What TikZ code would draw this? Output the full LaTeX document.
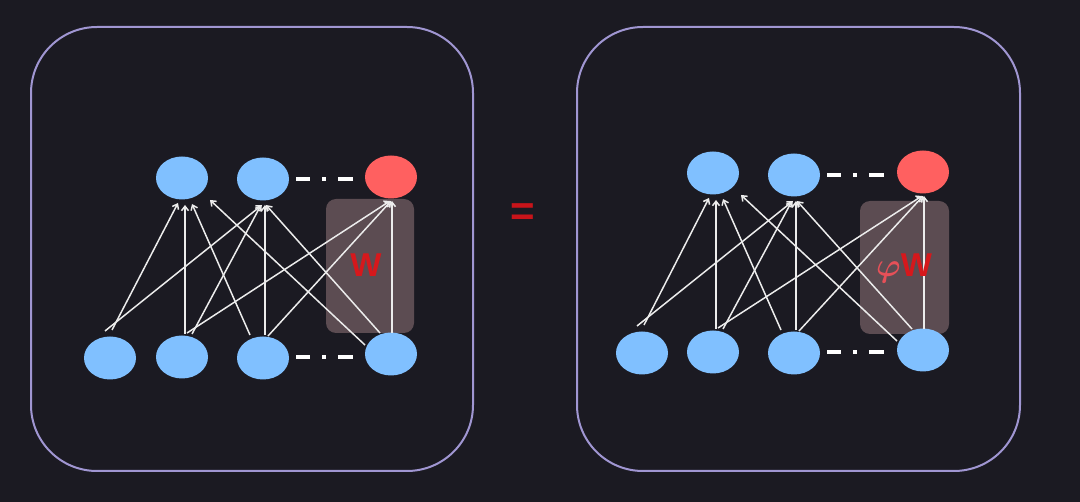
\documentclass[tikz,border=0pt]{standalone}
\usepackage{fix-cm}
\usepackage{fontspec}
\setmainfont{Liberation Sans}
\usetikzlibrary{arrows.meta,shapes.geometric,calc}
\definecolor{bg}{RGB}{27,26,34}
\definecolor{frame}{RGB}{160,150,210}
\definecolor{nblue}{RGB}{128,192,255}
\definecolor{nred}{RGB}{255,96,96}
\definecolor{wbox}{RGB}{92,76,82}
\definecolor{wred}{RGB}{214,24,28}
\definecolor{phired}{RGB}{230,80,88}
\definecolor{eqred}{RGB}{200,20,26}
\definecolor{edgec}{RGB}{236,236,236}
\begin{document}
\begin{tikzpicture}[x=1pt,y=-1pt,
  neuron/.style={ellipse,minimum width=52pt,minimum height=43pt,inner sep=0pt,fill=nblue},
  outn/.style={neuron,fill=nred},
  panel/.style={draw=frame,line width=2pt,rounded corners=66pt},
  wrect/.style={fill=wbox,rounded corners=10pt},
  arr/.style={draw=edgec,line width=1.5pt,-{Straight Barb[length=4.5pt,width=7pt]}},
  dotline/.style={draw=white,line width=4pt,dash pattern=on 14pt off 12pt on 4pt off 12pt on 15pt},
  wlabel/.style={font=\bfseries\fontsize{33}{33}\selectfont,text=wred,inner sep=0pt,anchor=base},
  eqlabel/.style={font=\bfseries\fontsize{42}{42}\selectfont,text=eqred,inner sep=0pt,anchor=base}
]
\fill[bg] (0,0) rectangle (1080,502);
\useasboundingbox (0,0) rectangle (1080,502);
% panels
\draw[panel] (31,27) rectangle (473,471);
\draw[panel] (577,27) rectangle (1020,471);
% weight boxes
\fill[wrect] (326,199) rectangle (414,333);
\fill[wrect] (860,201) rectangle (949,334);
% left network
\node[neuron] (Lt1) at (182,178) {};
\node[neuron] (Lt2) at (263,179) {};
\node[outn]   (Lr)  at (391,177) {};
\node[neuron] (Lb1) at (110,358) {};
\node[neuron] (Lb2) at (182,357) {};
\node[neuron] (Lb3) at (263,358) {};
\node[neuron] (Lb4) at (391,354) {};
% right network
\node[neuron] (Rt1) at (713,173) {};
\node[neuron] (Rt2) at (794,175) {};
\node[outn]   (Rr)  at (923,172) {};
\node[neuron] (Rb1) at (642,353) {};
\node[neuron] (Rb2) at (713,352) {};
\node[neuron] (Rb3) at (794,353) {};
\node[neuron] (Rb4) at (923,350) {};
% connectors
\foreach \p in {L,R}{
  \draw[arr] ([shift={(2,-28)}]\p b1.center) -- ([shift={(-4,25)}]\p t1.center);
  \draw[arr] ([shift={(-5,-27)}]\p b1.center) -- ([shift={(-1,26)}]\p t2.center);
  \draw[arr] ([shift={(3,-23)}]\p b2.center) -- ([shift={(3,27)}]\p t1.center);
  \draw[arr] ([shift={(10,-23)}]\p b2.center) -- ([shift={(-2,26)}]\p t2.center);
  \draw[arr] ([shift={(5,-24)}]\p b2.center) -- ([shift={(-1,24)}]\p r.center);
  \draw[arr] ([shift={(-13,-23)}]\p b3.center) -- ([shift={(10,26)}]\p t1.center);
  \draw[arr] ([shift={(2,-23)}]\p b3.center) -- ([shift={(2,26)}]\p t2.center);
  \draw[arr] ([shift={(5,-22)}]\p b3.center) -- ([shift={(0,24)}]\p r.center);
  \draw[arr] ([shift={(-26,-9)}]\p b4.center) -- ([shift={(28,22)}]\p t1.center);
  \draw[arr] ([shift={(-11,-21)}]\p b4.center) -- ([shift={(3,26)}]\p t2.center);
  \draw[arr] ([shift={(1,-21)}]\p b4.center) -- ([shift={(1,24)}]\p r.center);
  \draw[dotline] (\p t2.east) ++(7,0) -- ++(57,0);
  \draw[dotline] (\p b3.east) ++(7,-1) -- ++(57,0);
}
% labels
\node[wlabel] (wL) at (366,277) {W};
\node[wlabel] (wR) at (904,277) {\textcolor{phired}{\boldmath$\varphi$}W};
\node[eqlabel] (eq) at (523,226) {=};
\end{tikzpicture}
\end{document}
